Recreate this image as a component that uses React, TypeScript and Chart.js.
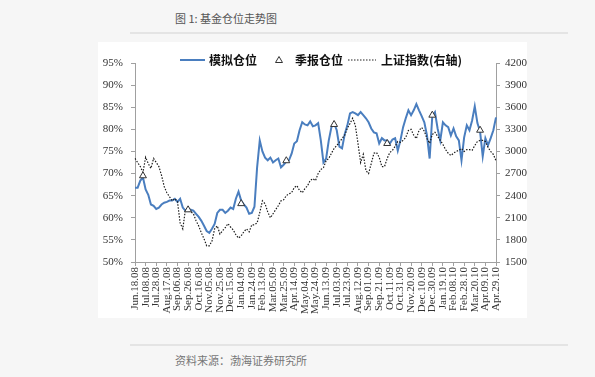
import React, { useEffect, useRef } from 'react';
import { Chart, registerables } from 'chart.js';

Chart.register(...registerables);

// ---- data ----
const tickLabels = [
  'Jun.18.08', 'Jul.08.08', 'Jul.28.08', 'Aug.17.08', 'Sep.06.08', 'Sep.26.08', 'Oct.16.08',
  'Nov.05.08', 'Nov.25.08', 'Dec.15.08', 'Jan.04.09', 'Jan.24.09', 'Feb.13.09', 'Mar.05.09',
  'Mar.25.09', 'Apr.14.09', 'May.04.09', 'May.24.09', 'Jun.13.09', 'Jul.03.09', 'Jul.23.09',
  'Aug.12.09', 'Sep.01.09', 'Sep.21.09', 'Oct.11.09', 'Oct.31.09', 'Nov.20.09', 'Dec.10.09',
  'Dec.30.09', 'Jan.19.10', 'Feb.08.10', 'Feb.28.10', 'Mar.20.10', 'Apr.09.10', 'Apr.29.10',
];

// 模拟仓位 (%), roughly every 5 days
const simulatedPosition = [
  66.8, 66.8, 68.4, 69.1, 66.4, 65.2, 63.0, 62.7, 62.0, 62.3,
  63.0, 63.4, 63.6, 63.9, 63.9, 64.3, 63.6, 64.3, 62.3, 61.6,
  62.0, 61.8, 61.6, 60.9, 60.2, 59.3, 58.2, 57.0, 56.6, 57.5,
  58.6, 61.1, 61.8, 61.8, 61.1, 61.6, 62.3, 62.0, 64.3, 65.9,
  63.9, 63.0, 62.3, 60.9, 61.1, 62.5, 71.4, 77.5, 75.0, 73.6,
  73.0, 73.6, 72.5, 73.0, 73.4, 71.4, 72.0, 72.7, 73.0, 74.5,
  76.8, 77.3, 79.8, 81.6, 81.1, 80.9, 81.8, 80.7, 80.9, 81.4,
  77.5, 72.5, 73.4, 77.5, 80.5, 81.4, 79.8, 76.1, 75.7, 78.9,
  80.9, 83.6, 83.9, 83.6, 83.2, 83.9, 83.2, 82.5, 81.6, 80.2,
  79.3, 79.1, 76.8, 78.0, 77.5, 77.5, 76.8, 77.7, 78.0, 75.2,
  77.5, 80.5, 82.5, 84.3, 83.2, 84.3, 85.7, 84.3, 83.0, 81.6,
  78.6, 73.4, 83.0, 83.9, 80.2, 77.5, 81.6, 80.9, 80.5, 78.6,
  80.2, 78.4, 77.5, 73.0, 78.2, 80.9, 79.8, 82.0, 85.2, 81.4,
  79.5, 73.9, 78.0, 76.4, 78.0, 79.8, 82.7,
];

// 上证指数 (右轴)
const shanghaiIndex = [
  2905, 2850, 2795, 2715, 2920, 2835, 2770, 2905, 2850, 2795,
  2675, 2525, 2440, 2385, 2330, 2360, 2320, 2030, 1950, 2210,
  2195, 2180, 2155, 2060, 1990, 1895, 1815, 1720, 1720, 1785,
  1950, 1990, 1880, 1925, 1965, 2020, 1975, 1935, 1870, 1825,
  1855, 1910, 1950, 1910, 2005, 2005, 2030, 2170, 2330, 2290,
  2180, 2100, 2155, 2210, 2265, 2330, 2345, 2400, 2425, 2440,
  2510, 2535, 2470, 2440, 2495, 2535, 2605, 2630, 2605, 2700,
  2755, 2780, 2875, 2905, 2975, 3040, 3080, 3125, 3175, 3220,
  3315, 3380, 3450, 3355, 3110, 2850, 2960, 2740, 2700, 2835,
  2975, 2985, 2920, 2795, 2795, 2905, 2985, 3015, 3070, 3135,
  3125, 3150, 3190, 3285, 3300, 3220, 3175, 3285, 3325, 3275,
  3175, 3110, 3230, 3260, 3205, 3150, 3095, 3025, 2975, 2945,
  2975, 3000, 3015, 3040, 3000, 3025, 3025, 3015, 3080, 3135,
  3150, 3150, 3135, 3055, 3000, 2960, 2875,
];

// 季报仓位 (quarterly reported positions)
const quarterPoint = [3, 20, 40, 57, 75, 95, 112, 130];
const quarterPosition = [69.5, 61.8, 63.2, 72.9, 81.1, 76.8, 83.2, 79.8];

const seriesNames = ['模拟仓位', '季报仓位', '上证指数(右轴)'];

const STEP = 4;
const categories = simulatedPosition.map((_, i) => (i % STEP === 0 ? tickLabels[i / STEP] : ''));
const quarterSeries = categories.map((_, i) => {
  const k = quarterPoint.indexOf(i);
  return k < 0 ? null : quarterPosition[k];
});

const BLUE = '#4a7ebf';
const AXIS = '#a0a0a0';
const TEXT = '#333333';
const SERIF = '"Liberation Serif", "Times New Roman", serif';
const CJK = '"Noto Sans CJK SC", sans-serif';

const legendPlugin = {
  id: 'customLegend',
  afterDraw(chart: any) {
    const ctx = chart.ctx as CanvasRenderingContext2D;
    const ds = chart.data.datasets;
    const y = 60;
    ctx.save();
    ctx.font = `bold 12px ${CJK}`;
    ctx.fillStyle = '#111';
    ctx.textBaseline = 'middle';
    ctx.textAlign = 'left';
    ctx.strokeStyle = BLUE;
    ctx.lineWidth = 2;
    ctx.beginPath();
    ctx.moveTo(180, y);
    ctx.lineTo(205, y);
    ctx.stroke();
    ctx.fillText(ds[0].label, 209, y);
    ctx.beginPath();
    ctx.moveTo(279, y - 3.5);
    ctx.lineTo(282.5, y + 2.5);
    ctx.lineTo(275.5, y + 2.5);
    ctx.closePath();
    ctx.fillStyle = '#fff';
    ctx.fill();
    ctx.strokeStyle = '#333';
    ctx.lineWidth = 1;
    ctx.stroke();
    ctx.fillStyle = '#111';
    ctx.fillText(ds[1].label, 295, y);
    ctx.strokeStyle = '#222';
    ctx.lineWidth = 1.2;
    ctx.setLineDash([1.5, 1.5]);
    ctx.beginPath();
    ctx.moveTo(348, y);
    ctx.lineTo(376, y);
    ctx.stroke();
    ctx.setLineDash([]);
    ctx.fillText(ds[2].label, 381, y);
    ctx.restore();
  },
};

export default function App() {
  const ref = useRef<HTMLCanvasElement | null>(null);

  useEffect(() => {
    if (!ref.current) return;
    const chart = new Chart(ref.current, {
      type: 'line',
      data: {
        labels: categories,
        datasets: [
          {
            label: seriesNames[0],
            data: simulatedPosition,
            borderColor: BLUE,
            borderWidth: 2,
            pointRadius: 0,
            tension: 0,
            yAxisID: 'y',
            order: 2,
          },
          {
            label: seriesNames[1],
            data: quarterSeries,
            showLine: false,
            pointStyle: 'triangle',
            pointRadius: 4,
            pointBorderWidth: 1,
            pointBorderColor: '#333',
            pointBackgroundColor: '#fff',
            borderColor: '#333',
            backgroundColor: '#fff',
            yAxisID: 'y',
            order: 0,
          },
          {
            label: seriesNames[2],
            data: shanghaiIndex,
            borderColor: '#1a1a1a',
            borderWidth: 1.2,
            borderDash: [1.5, 1.5],
            pointRadius: 0,
            tension: 0,
            yAxisID: 'y1',
            order: 1,
          },
        ],
      },
      options: {
        responsive: false,
        animation: false,
        devicePixelRatio: 1,
        layout: { padding: { top: 63, left: 0, right: 0, bottom: 0 } },
        plugins: { legend: { display: false }, tooltip: { enabled: false } },
        scales: {
          x: {
            type: 'category',
            offset: false,
            grid: {
              drawOnChartArea: false,
              tickLength: 4,
              color: AXIS,
              tickColor: (c: any) => (c.index % STEP === 0 ? AXIS : 'rgba(0,0,0,0)'),
            },
            border: { color: AXIS },
            ticks: {
              autoSkip: false,
              maxRotation: 90,
              minRotation: 90,
              padding: 1,
              color: TEXT,
              font: { family: SERIF, size: 11 },
              callback: (_v: any, i: number) => categories[i],
            },
            afterFit: (s: any) => {
              s.height = 115;
            },
          },
          y: {
            position: 'left',
            min: 50,
            max: 95,
            grid: { drawOnChartArea: false, tickLength: 4, color: AXIS },
            border: { color: AXIS },
            ticks: {
              stepSize: 5,
              padding: 8,
              color: TEXT,
              font: { family: SERIF, size: 11 },
              callback: (v: any) => `${v}%`,
            },
            afterFit: (s: any) => {
              s.width = 135;
            },
          },
          y1: {
            position: 'right',
            min: 1500,
            max: 4200,
            grid: { drawOnChartArea: false, tickLength: 4, color: AXIS },
            border: { color: AXIS },
            ticks: {
              stepSize: 300,
              padding: 5,
              color: TEXT,
              font: { family: SERIF, size: 11 },
              callback: (v: any) => String(v),
            },
            afterFit: (s: any) => {
              s.width = 99;
            },
          },
        },
      },
      plugins: [legendPlugin],
    });
    return () => chart.destroy();
  }, []);

  return (
    <div
      style={{
        position: 'fixed',
        left: 0,
        top: 0,
        width: 595,
        height: 377,
        background: '#f6f6f6',
        overflow: 'hidden',
      }}
    >
      <div style={{ position: 'absolute', left: 98, top: 42, width: 429, height: 276, background: '#fff' }} />
      <div
        style={{
          position: 'absolute',
          left: 175,
          top: 10,
          fontFamily: CJK,
          fontSize: 11,
          color: '#555',
          whiteSpace: 'nowrap',
          lineHeight: '16px',
        }}
      >
        图 1: 基金仓位走势图
      </div>
      <div style={{ position: 'absolute', left: 130, top: 32, width: 438, height: 2, background: '#e4e4e4' }} />
      <div style={{ position: 'absolute', left: 130, top: 344, width: 438, height: 2, background: '#e4e4e4' }} />
      <div
        style={{
          position: 'absolute',
          left: 175,
          top: 352,
          fontFamily: CJK,
          fontSize: 11,
          color: '#777',
          whiteSpace: 'nowrap',
          lineHeight: '16px',
        }}
      >
        资料来源：渤海证券研究所
      </div>
      <canvas
        ref={ref}
        width={595}
        height={377}
        style={{ position: 'absolute', left: 0, top: 0, width: 595, height: 377 }}
      />
    </div>
  );
}
